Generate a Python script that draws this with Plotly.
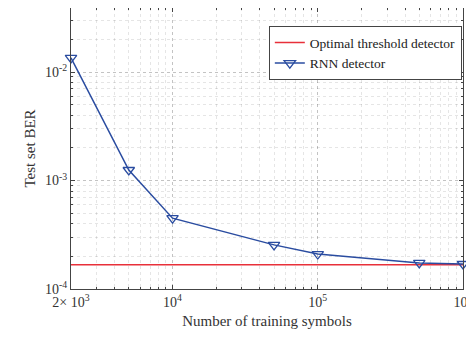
import plotly.graph_objects as go
import numpy as np

x_train = [2e3, 5e3, 1e4, 5e4, 1e5, 5e5, 1e6]
rnn_ber = [1.35e-2, 1.25e-3, 4.5e-4, 2.55e-4, 2.1e-4, 1.74e-4, 1.7e-4]
opt_ber = 1.67e-4
x_range = [2e3, 1e6]

x_tickvals = [2e3, 1e4, 1e5, 1e6]
x_ticktext = ["2× 10<sup>3</sup>", "10<sup>4</sup>", "10<sup>5</sup>", "10<sup>6</sup>"]
y_tickvals = [1e-4, 1e-3, 1e-2]
y_ticktext = ["10<sup>-4</sup>", "10<sup>-3</sup>", "10<sup>-2</sup>"]

font = "Liberation Serif"

fig = go.Figure()
fig.add_trace(go.Scatter(x=x_range, y=[opt_ber, opt_ber], mode="lines",
                         line=dict(color="#e8303a", width=1.5),
                         name="Optimal threshold detector"))
fig.add_trace(go.Scatter(x=x_train, y=rnn_ber, mode="lines+markers",
                         line=dict(color="#2a4ca0", width=1.5),
                         marker=dict(symbol="triangle-down-open", size=10,
                                     color="#2a4ca0", line=dict(width=1.3)),
                         cliponaxis=False,
                         name="RNN detector"))

axis_common = dict(type="log", showline=True, linecolor="#444", linewidth=1,
                   mirror="ticks", ticks="inside", ticklen=4, tickcolor="#444",
                   showgrid=True, gridcolor="rgba(0,0,0,0.15)", gridwidth=1,
                   griddash="dot",
                   zeroline=False,
                   tickfont=dict(family=font, size=14, color="#333"),
                   minor=dict(dtick="D1", ticks="inside", ticklen=2, tickcolor="#444",
                              showgrid=True, gridcolor="rgba(0,0,0,0.10)",
                              griddash="dot"))

eps = 1e-6
fig.update_xaxes(range=[np.log10(2e3) - eps, 6 + eps], tickvals=x_tickvals, ticktext=x_ticktext,
                 title=dict(text="Number of training symbols",
                            font=dict(family=font, size=15, color="#333"), standoff=6),
                 **axis_common)
fig.update_yaxes(range=[-4 - eps, -1.41], tickvals=y_tickvals, ticktext=y_ticktext,
                 title=dict(text="Test set BER",
                            font=dict(family=font, size=15, color="#333"), standoff=5),
                 **axis_common)

fig.update_layout(width=466, height=350, margin=dict(l=63, r=11, t=0, b=69),
                  plot_bgcolor="white", paper_bgcolor="white",
                  legend=dict(x=0.997, y=0.935, xanchor="right", yanchor="top",
                              bgcolor="white", bordercolor="#444", borderwidth=1,
                              font=dict(family=font, size=13.5, color="#222"),
                              tracegroupgap=0, itemwidth=30))
fig.write_html("out.html")
